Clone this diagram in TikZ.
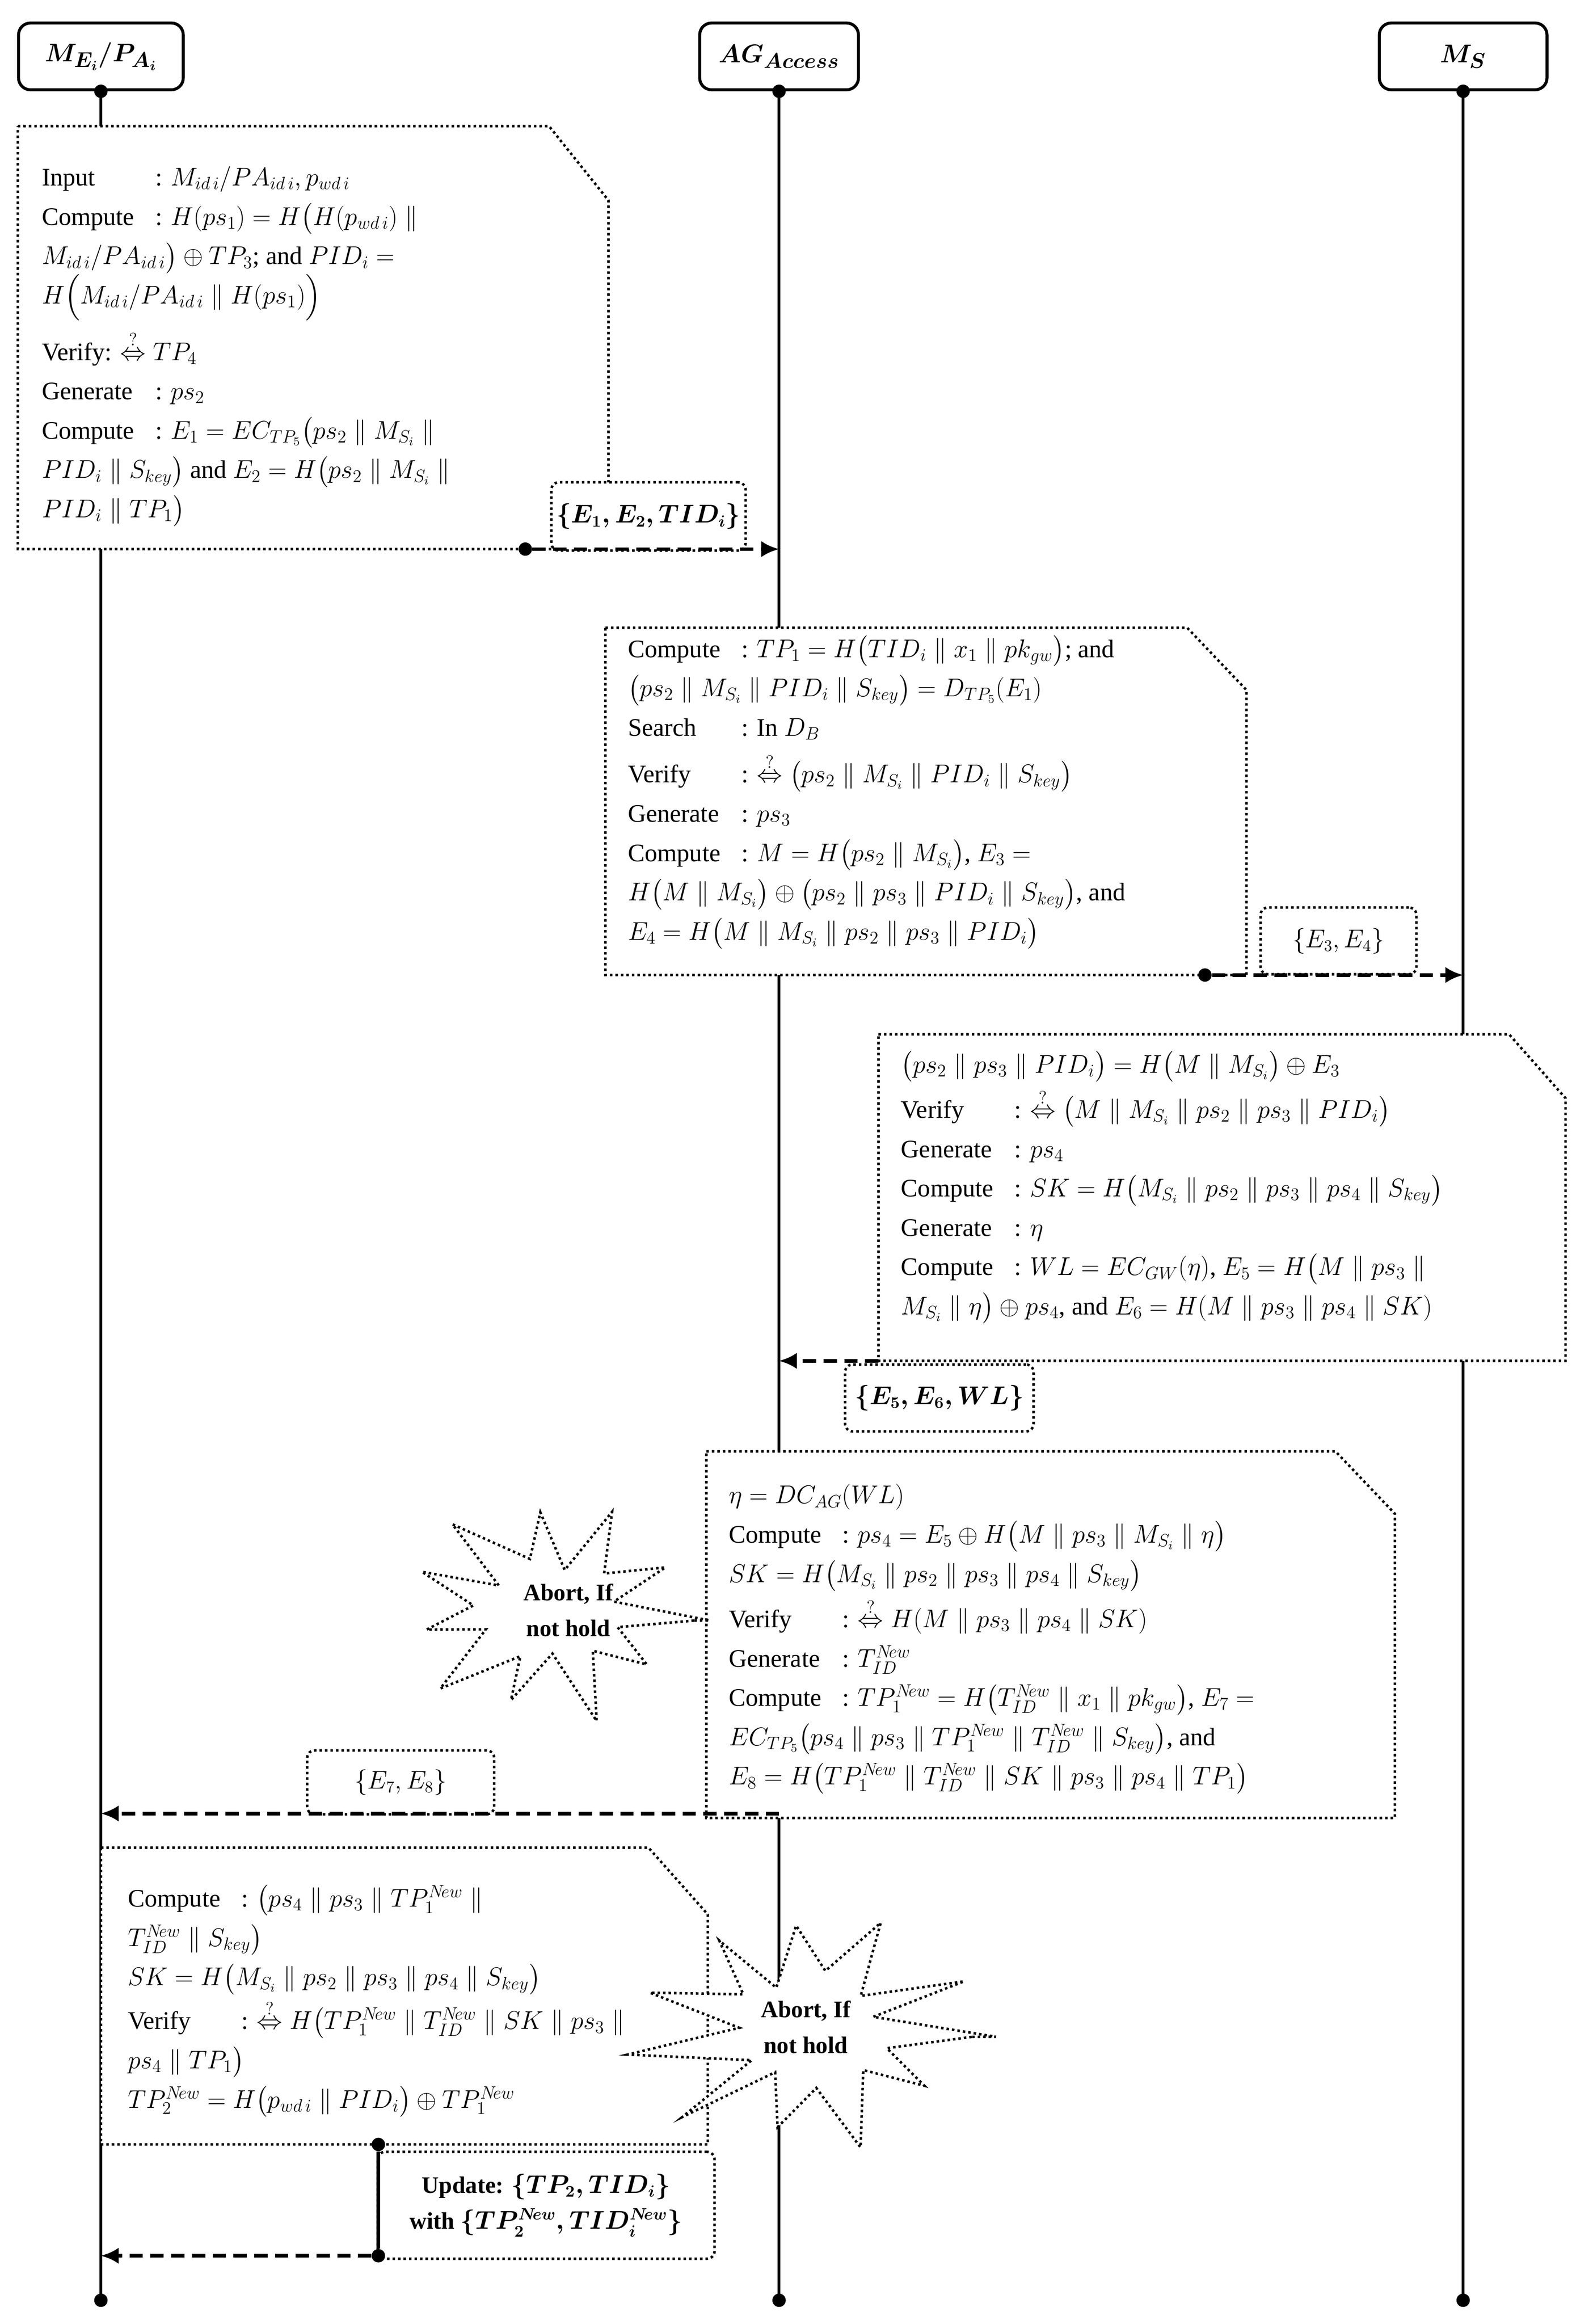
\documentclass[tikz,border=0pt]{standalone}
\usepackage{amsmath}
\usepackage{fontspec}
\setmainfont{Liberation Serif}
\usetikzlibrary{arrows.meta}
\newcommand\lab[1]{\makebox[4.5em][l]{#1}}
\newcommand\pl{\parallel}
\newcommand\vq{\overset{?}{\Leftrightarrow}}
\newcommand\new{^{N\!ew}}
\begin{document}
\begin{tikzpicture}[x=1pt,y=-1pt,
  head/.style={draw,line width=2pt,rounded corners=8pt,minimum height=45pt,font=\fontsize{19}{20}\selectfont},
  life/.style={line width=1.8pt},
  dot/.style={circle,fill=black,inner sep=0pt,minimum size=9pt},
  box/.style={draw,dotted,line width=1.7pt,fill=white},
  txt/.style={anchor=north west,align=left,inner sep=0pt,font=\fontsize{17}{26.5}\selectfont},
  lbl/.style={draw,dotted,line width=1.7pt,rounded corners=5pt,fill=white,font=\fontsize{16}{24}\selectfont,align=center},
  msg/.style={dashed,dash pattern=on 9pt off 5pt,line width=2.4pt,-{Latex[length=12pt,width=11pt]}},
  burst/.style={draw,dotted,line width=1.7pt,fill=white}]
\useasboundingbox (0,0) rectangle (1062,1566);
% headers
\node[head,minimum width=111pt] (h1) at (68,38) {$\boldsymbol{M_{E_i}/P_{A_i}}$};
\node[head,minimum width=107pt] (h2) at (525,38) {$\boldsymbol{AG_{Access}}$};
\node[head,minimum width=113pt] (h3) at (986,38) {$\boldsymbol{M_S}$};
\coordinate (b1) at (68,1550); \coordinate (b2) at (525,1550); \coordinate (b3) at (986,1550);
\draw[life] (h1.south) -- (b1); \draw[life] (h2.south) -- (b2); \draw[life] (h3.south) -- (b3);
\foreach \n in {h1,h2,h3} \node[dot] at (\n.south) {};
\foreach \n in {b1,b2,b3} \node[dot] at (\n) {};
% box 1
\draw[box] (12,85) -- (370,85) -- (410,135) -- (410,370) -- (12,370) -- cycle;
\node[txt] (t1) at (28,112) {\lab{Input}: $M_{id\,i}/PA_{id\,i}, p_{wd\,i}$\\
\lab{Compute}: $H(ps_1)=H\big(H(p_{wd\,i})\pl$\\
$M_{id\,i}/PA_{id\,i}\big)\oplus TP_3$; and $PID_i=$\\
$H\Big(M_{id\,i}/PA_{id\,i}\pl H(ps_1)\Big)$\\[6pt]
Verify: $\vq TP_4$\\
\lab{Generate}: $ps_2$\\
\lab{Compute}: $E_1=EC_{TP_5}\big(ps_2\pl M_{S_i}\pl$\\
$PID_i\pl S_{key}\big)$ and $E_2=H\big(ps_2\pl M_{S_i}\pl$\\
$PID_i\pl TP_1\big)$};
\node[lbl,minimum width=105pt,minimum height=46pt] (l1) at (437,348) {$\boldsymbol{\{E_1,E_2,TID_i\}}$};
\node[dot] (s1) at (354,370) {};
\coordinate (e1) at (525,370);
\draw[msg] (s1) -- (e1);
% box 2
\draw[box] (408,423) -- (800,423) -- (840,465) -- (840,657) -- (408,657) -- cycle;
\node[txt] (t2) at (423,428) {\lab{Compute}: $TP_1=H\big(TID_i\pl x_1\pl pk_{gw}\big)$; and\\
$\big(ps_2\pl M_{S_i}\pl PID_i\pl S_{key}\big)=D_{TP_5}(E_1)$\\
\lab{Search}: In $D_B$\\[5pt]
\lab{Verify}: $\vq\big(ps_2\pl M_{S_i}\pl PID_i\pl S_{key}\big)$\\
\lab{Generate}: $ps_3$\\
\lab{Compute}: $M=H\big(ps_2\pl M_{S_i}\big)$, $E_3=$\\
$H\big(M\pl M_{S_i}\big)\oplus\big(ps_2\pl ps_3\pl PID_i\pl S_{key}\big)$, and\\
$E_4=H\big(M\pl M_{S_i}\pl ps_2\pl ps_3\pl PID_i\big)$};
\node[lbl,minimum width=105pt,minimum height=45pt] (l2) at (902,634) {$\{E_3,E_4\}$};
\node[dot] (s2) at (812,657) {};
\coordinate (e2) at (986,657);
\draw[msg] (s2) -- (e2);
% box 3
\draw[box] (592,697) -- (1017,697) -- (1055,740) -- (1055,917) -- (592,917) -- cycle;
\node[txt] (t3) at (607,708) {$\big(ps_2\pl ps_3\pl PID_i\big)=H\big(M\pl M_{S_i}\big)\oplus E_3$\\[4pt]
\lab{Verify}: $\vq\big(M\pl M_{S_i}\pl ps_2\pl ps_3\pl PID_i\big)$\\
\lab{Generate}: $ps_4$\\
\lab{Compute}: $SK=H\big(M_{S_i}\pl ps_2\pl ps_3\pl ps_4\pl S_{key}\big)$\\
\lab{Generate}: $\eta$\\
\lab{Compute}: $WL=EC_{GW}(\eta)$, $E_5=H\big(M\pl ps_3\pl$\\
$M_{S_i}\pl\eta\big)\oplus ps_4$, and $E_6=H(M\pl ps_3\pl ps_4\pl SK)$};
\node[lbl,minimum width=127pt,minimum height=45pt] (l3) at (633,942) {$\boldsymbol{\{E_5,E_6,WL\}}$};
\coordinate (s3) at (592,917);
\coordinate (e3) at (525,917);
\draw[msg] (s3) -- (e3);
% box 4
\draw[box] (476,978) -- (900,978) -- (940,1020) -- (940,1225) -- (476,1225) -- cycle;
\node[txt] (t4) at (491,1000) {$\eta=DC_{AG}(WL)$\\
\lab{Compute}: $ps_4=E_5\oplus H\big(M\pl ps_3\pl M_{S_i}\pl\eta\big)$\\
$SK=H\big(M_{S_i}\pl ps_2\pl ps_3\pl ps_4\pl S_{key}\big)$\\[4pt]
\lab{Verify}: $\vq H(M\pl ps_3\pl ps_4\pl SK)$\\
\lab{Generate}: $T_{ID}\new$\\
\lab{Compute}: $TP_1\new=H\big(T_{ID}\new\pl x_1\pl pk_{gw}\big)$, $E_7=$\\
$EC_{TP_5}\big(ps_4\pl ps_3\pl TP_1\new\pl T_{ID}\new\pl S_{key}\big)$, and\\
$E_8=H\big(TP_1\new\pl T_{ID}\new\pl SK\pl ps_3\pl ps_4\pl TP_1\big)$};
\draw[burst] plot[samples at={0,...,22}] ({370+(mod(\x,2)==0 ? 98 : 45)*(1+0.15*sin(\x*137))*cos(\x*360/22+5)},{1085+(mod(\x,2)==0 ? 70 : 32)*(1+0.15*cos(\x*97))*sin(\x*360/22+5)}) -- cycle;
\node[align=center,font=\bfseries\fontsize{16}{24}\selectfont] (a1) at (383,1085) {Abort, If\\not hold};
\node[lbl,minimum width=126pt,minimum height=43pt] (l4) at (270,1201) {$\{E_7,E_8\}$};
\coordinate (s4) at (525,1222);
\coordinate (e4) at (68,1222);
\draw[msg] (s4) -- (e4);
% box 5
\draw[box] (68,1245) -- (437,1245) -- (477,1290) -- (477,1445) -- (68,1445) -- cycle;
\node[txt] (t5) at (86,1270) {\lab{Compute}: $\big(ps_4\pl ps_3\pl TP_1\new\pl$\\
$T_{ID}\new\pl S_{key}\big)$\\
$SK=H\big(M_{S_i}\pl ps_2\pl ps_3\pl ps_4\pl S_{key}\big)$\\[3pt]
\lab{Verify}: $\vq H\big(TP_1\new\pl T_{ID}\new\pl SK\pl ps_3\pl$\\
$ps_4\pl TP_1\big)$\\
$TP_2\new=H\big(p_{wd\,i}\pl PID_i\big)\oplus TP_1\new$};
\draw[burst] plot[samples at={0,...,22}] ({545+(mod(\x,2)==0 ? 110 : 52)*(1+0.15*sin(\x*151))*cos(\x*360/22+3)},{1368+(mod(\x,2)==0 ? 75 : 36)*(1+0.15*cos(\x*83))*sin(\x*360/22+3)}) -- cycle;
\node[align=center,font=\bfseries\fontsize{16}{24}\selectfont] (a2) at (543,1366) {Abort, If\\not hold};
% update
\node[lbl,minimum width=227pt,minimum height=72pt,font=\bfseries\fontsize{16}{24}\selectfont] (u) at (368,1486) {Update: $\boldsymbol{\{TP_2,TID_i\}}$\\with $\boldsymbol{\{TP_2\new,TID_i\new\}}$};
\node[dot] (s5) at (255,1445) {};
\node[dot] (s6) at (255,1520) {};
\draw[line width=2.4pt] (s5) -- (s6);
\coordinate (e5) at (68,1520);
\draw[msg] (s6) -- (e5);
\end{tikzpicture}
\end{document}
